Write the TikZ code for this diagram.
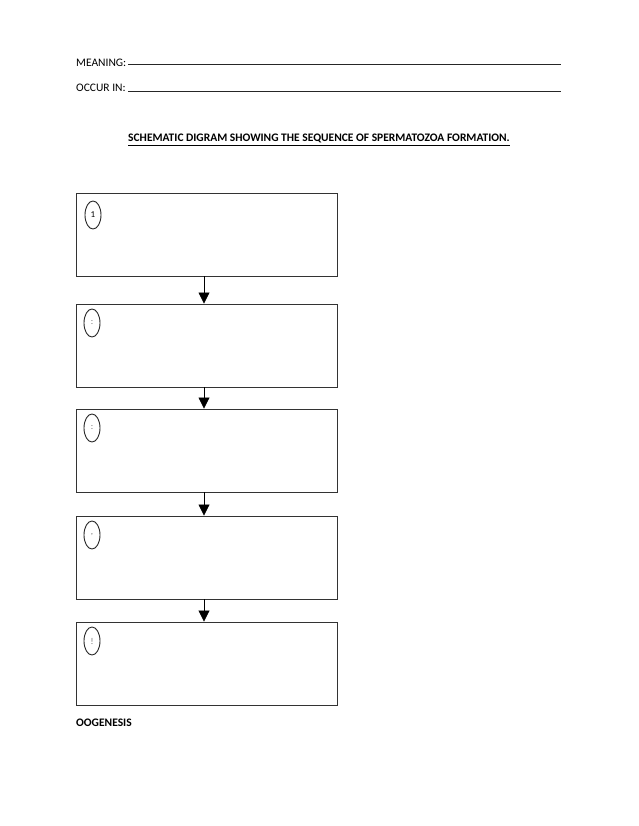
\documentclass[tikz,border=0pt]{standalone}
\usepackage{fontspec}
\setmainfont{Carlito}
\usetikzlibrary{arrows.meta,shapes.geometric}
\begin{document}
\begin{tikzpicture}[x=1pt,y=-1pt,
  stepbox/.style={draw=black!80,line width=0.9pt,minimum width=261pt,minimum height=83pt,inner sep=0pt},
  numoval/.style={draw=black!85,line width=0.9pt,ellipse,minimum width=16pt,minimum height=28pt,inner sep=0pt,font=\fontsize{9}{10}\selectfont,text=black!55},
  arr/.style={draw=black,line width=0.8pt,-{Triangle[width=11pt,length=11pt]}},
  lbl/.style={anchor=base west,inner sep=0pt,font=\fontsize{11.5}{13}\selectfont},
  rule/.style={draw=black!85,line width=0.9pt}]
\useasboundingbox[fill=white] (0,0) rectangle (638,826);
\node[lbl] (meaning) at (76,67) {MEANING:};
\coordinate (m1) at (128,64.5);
\coordinate (m2) at (561,64.5);
\draw[rule] (m1) -- (m2);
\node[lbl] (occur) at (76,92) {OCCUR IN:};
\coordinate (o1) at (128,91);
\coordinate (o2) at (561,91);
\draw[rule] (o1) -- (o2);
\node[anchor=base,inner sep=0pt,font=\fontsize{11.5}{13}\selectfont\bfseries] (title) at (319,142) {\underline{SCHEMATIC DIGRAM SHOWING THE SEQUENCE OF SPERMATOZOA FORMATION.}};
\node[stepbox] (b1) at (206.5,234.5) {};
\node[stepbox] (b2) at (206.5,345.5) {};
\node[stepbox] (b3) at (206.5,450.5) {};
\node[stepbox] (b4) at (206.5,557.5) {};
\node[stepbox] (b5) at (206.5,663.5) {};
\node[numoval,text=black] (e1) at (93,215) {1};
\node[numoval] (e2) at (92,323) {:};
\node[numoval] (e3) at (92,428) {:};
\node[numoval] (e4) at (92,535) {,};
\node[numoval] (e5) at (92,641) {!};
\coordinate (ax) at (204,0);
\draw[arr] (b1.south -| ax) -- (b2.north -| ax);
\draw[arr] (b2.south -| ax) -- (b3.north -| ax);
\draw[arr] (b3.south -| ax) -- (b4.north -| ax);
\draw[arr] (b4.south -| ax) -- (b5.north -| ax);
\node[lbl,font=\fontsize{11.5}{13}\selectfont\bfseries] (oog) at (76,726) {OOGENESIS};
\end{tikzpicture}
\end{document}
